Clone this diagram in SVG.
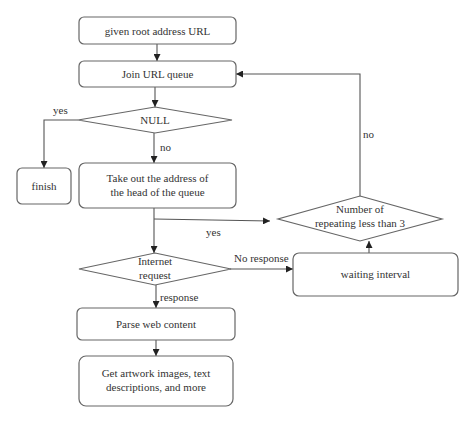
<svg xmlns="http://www.w3.org/2000/svg" width="474" height="423" viewBox="0 0 474 423">
<style>
.box{fill:#fff;stroke:#666;stroke-width:1.2}
.ln{fill:none;stroke:#555;stroke-width:1.1}
text{font-family:"Liberation Serif","DejaVu Serif",serif;font-size:11px;fill:#333;text-anchor:middle}
.lb{text-anchor:start}
</style>
<defs>
<marker id="ah" viewBox="0 0 10 10" refX="10" refY="5" markerWidth="7" markerHeight="7" orient="auto" markerUnits="userSpaceOnUse">
<path d="M0,0 L10,5 L0,10 z" fill="#222"/>
</marker>
</defs>
<rect width="474" height="423" fill="#fff"/>
<g id="connectors">
<path class="ln" d="M157,44 V61" marker-end="url(#ah)"/>
<path class="ln" d="M155,87 V107" marker-end="url(#ah)"/>
<path class="ln" d="M78,120 H44 V168" marker-end="url(#ah)"/>
<path class="ln" d="M154,133 V163" marker-end="url(#ah)"/>
<path class="ln" d="M154,208 V253" marker-end="url(#ah)"/>
<path class="ln" d="M154,219 L270,221" marker-end="url(#ah)"/>
<path class="ln" d="M230,269 H293" marker-end="url(#ah)"/>
<path class="ln" d="M369,253 V241" marker-end="url(#ah)"/>
<path class="ln" d="M360,196 V74 H236" marker-end="url(#ah)"/>
<path class="ln" d="M156,285 V308" marker-end="url(#ah)"/>
<path class="ln" d="M156,340 V356" marker-end="url(#ah)"/>
<text class="lb" x="53" y="114">yes</text>
<text class="lb" x="160" y="151">no</text>
<text class="lb" x="206" y="236">yes</text>
<text class="lb" x="234" y="262">No response</text>
<text class="lb" x="363" y="138">no</text>
<text class="lb" x="160" y="301">response</text>
</g>
<g id="n1"><rect class="box" x="79" y="17" width="157" height="27" rx="5"/><text x="157.5" y="34.5">given root address URL</text></g>
<g id="n2"><rect class="box" x="79" y="61" width="157" height="26" rx="5"/><text x="157.5" y="77.5">Join URL queue</text></g>
<g id="n3"><polygon class="box" points="155,107 232,120 155,133 78,120"/><text x="155" y="124">NULL</text></g>
<g id="n4"><rect class="box" x="17" y="168" width="54" height="36" rx="5"/><text x="44" y="189.5">finish</text></g>
<g id="n5"><rect class="box" x="79" y="163" width="157" height="45" rx="6"/><text x="157.5" y="182">Take out the address of</text><text x="157.5" y="195.5">the head of the queue</text></g>
<g id="n6"><polygon class="box" points="155,253 231,269 155,285 79,269"/><text x="155" y="265">Internet</text><text x="155" y="279">request</text></g>
<g id="n7"><polygon class="box" points="360,196 442,219 360,241 278,219"/><text x="360" y="213">Number of</text><text x="360" y="227">repeating less than 3</text></g>
<g id="n8"><rect class="box" x="293" y="253" width="165" height="43" rx="6"/><text x="375.5" y="278">waiting interval</text></g>
<g id="n9"><rect class="box" x="77" y="308" width="158" height="32" rx="5"/><text x="156" y="327.5">Parse web content</text></g>
<g id="n10"><rect class="box" x="79" y="356" width="154" height="50" rx="7"/><text x="156" y="377">Get artwork images, text</text><text x="156" y="391">descriptions, and more</text></g>
</svg>
